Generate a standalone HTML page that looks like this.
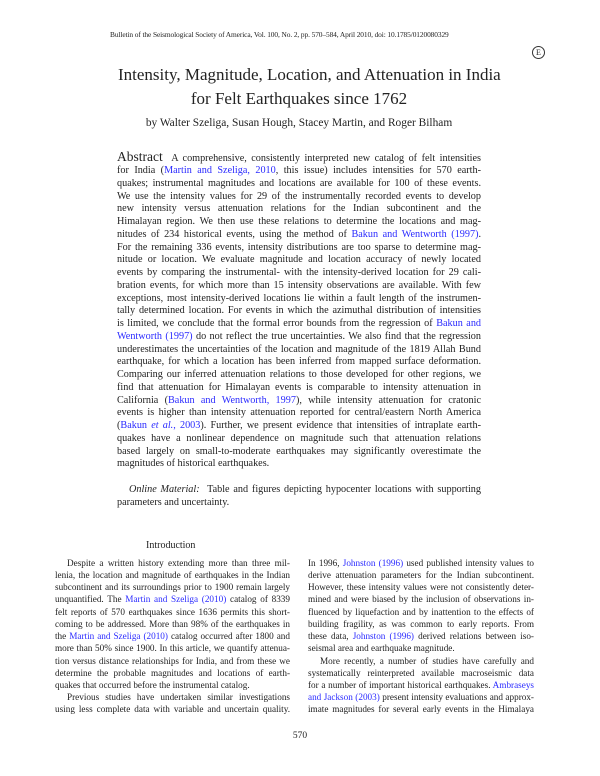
<!DOCTYPE html>
<html><head><meta charset="utf-8"><style>
body{margin:0;background:#fff;}
#p{position:relative;width:600px;height:776px;overflow:hidden;font-family:"Liberation Serif",serif;color:#222;}
.a{position:absolute;white-space:nowrap;line-height:1;}
.l{position:absolute;text-align:justify;text-align-last:justify;height:13px;line-height:13px;overflow:hidden;}
.e{text-align-last:left;}
.ab{left:117px;width:364px;font-size:10.2px;}
.lc{left:55px;width:235px;font-size:9.2px;}
.rc{left:308px;width:226px;font-size:9.2px;}
b{font-weight:normal;color:#2b2bff;}
</style></head><body><div id="p">
<div class="a" style="left:110px;top:31px;font-size:7.4px;width:380px;letter-spacing:-0.1px">Bulletin of the Seismological Society of America, Vol. 100, No. 2, pp. 570–584, April 2010, doi: 10.1785/0120080329</div>
<div class="a" style="left:532px;top:46px;width:11px;height:11px;border:1px solid #333;border-radius:50%;font-size:8px;text-align:center;line-height:11px">E</div>
<div class="a" style="left:118px;top:66px;font-size:17px;width:362px;text-align:center">Intensity, Magnitude, Location, and Attenuation in India</div>
<div class="a" style="left:118px;top:90px;font-size:17px;width:362px;text-align:center">for Felt Earthquakes since 1762</div>
<div class="a" style="left:118px;top:118px;font-size:11.4px;width:362px;text-align:center">by Walter Szeliga, Susan Hough, Stacey Martin, and Roger Bilham</div>

<div class="l ab" style="top:149px;height:16px;line-height:16px"><span style="font-size:13.5px">Abstract</span>&nbsp; A comprehensive, consistently interpreted new catalog of felt intensities</div>
<div class="l ab" style="top:164px">for India (<b>Martin and Szeliga, 2010</b>, this issue) includes intensities for 570 earth-</div>
<div class="l ab" style="top:177px">quakes; instrumental magnitudes and locations are available for 100 of these events.</div>
<div class="l ab" style="top:190px">We use the intensity values for 29 of the instrumentally recorded events to develop</div>
<div class="l ab" style="top:202px">new intensity versus attenuation relations for the Indian subcontinent and the</div>
<div class="l ab" style="top:215px">Himalayan region. We then use these relations to determine the locations and mag-</div>
<div class="l ab" style="top:228px">nitudes of 234 historical events, using the method of <b>Bakun and Wentworth (1997)</b>.</div>
<div class="l ab" style="top:241px">For the remaining 336 events, intensity distributions are too sparse to determine mag-</div>
<div class="l ab" style="top:253px">nitude or location. We evaluate magnitude and location accuracy of newly located</div>
<div class="l ab" style="top:266px">events by comparing the instrumental- with the intensity-derived location for 29 cali-</div>
<div class="l ab" style="top:279px">bration events, for which more than 15 intensity observations are available. With few</div>
<div class="l ab" style="top:292px">exceptions, most intensity-derived locations lie within a fault length of the instrumen-</div>
<div class="l ab" style="top:304px">tally determined location. For events in which the azimuthal distribution of intensities</div>
<div class="l ab" style="top:317px">is limited, we conclude that the formal error bounds from the regression of <b>Bakun and</b></div>
<div class="l ab" style="top:330px"><b>Wentworth (1997)</b> do not reflect the true uncertainties. We also find that the regression</div>
<div class="l ab" style="top:343px">underestimates the uncertainties of the location and magnitude of the 1819 Allah Bund</div>
<div class="l ab" style="top:355px">earthquake, for which a location has been inferred from mapped surface deformation.</div>
<div class="l ab" style="top:368px">Comparing our inferred attenuation relations to those developed for other regions, we</div>
<div class="l ab" style="top:381px">find that attenuation for Himalayan events is comparable to intensity attenuation in</div>
<div class="l ab" style="top:394px">California (<b>Bakun and Wentworth, 1997</b>), while intensity attenuation for cratonic</div>
<div class="l ab" style="top:406px">events is higher than intensity attenuation reported for central/eastern North America</div>
<div class="l ab" style="top:419px">(<b>Bakun <i>et al.</i>, 2003</b>). Further, we present evidence that intensities of intraplate earth-</div>
<div class="l ab" style="top:432px">quakes have a nonlinear dependence on magnitude such that attenuation relations</div>
<div class="l ab" style="top:445px">based largely on small-to-moderate earthquakes may significantly overestimate the</div>
<div class="l ab e" style="top:457px">magnitudes of historical earthquakes.</div>

<div class="l ab" style="top:483px;left:129px;width:352px"><i>Online Material:</i>&nbsp; Table and figures depicting hypocenter locations with supporting</div>
<div class="l ab e" style="top:496px">parameters and uncertainty.</div>

<div class="a" style="left:146px;top:541px;font-size:10px">Introduction</div>

<div class="l lc" style="top:557px;left:67px;width:223px">Despite a written history extending more than three mil-</div>
<div class="l lc" style="top:569px">lenia, the location and magnitude of earthquakes in the Indian</div>
<div class="l lc" style="top:581px">subcontinent and its surroundings prior to 1900 remain largely</div>
<div class="l lc" style="top:593px">unquantified. The <b>Martin and Szeliga (2010)</b> catalog of 8339</div>
<div class="l lc" style="top:606px">felt reports of 570 earthquakes since 1636 permits this short-</div>
<div class="l lc" style="top:618px">coming to be addressed. More than 98% of the earthquakes in</div>
<div class="l lc" style="top:630px">the <b>Martin and Szeliga (2010)</b> catalog occurred after 1800 and</div>
<div class="l lc" style="top:642px">more than 50% since 1900. In this article, we quantify attenua-</div>
<div class="l lc" style="top:655px">tion versus distance relationships for India, and from these we</div>
<div class="l lc" style="top:667px">determine the probable magnitudes and locations of earth-</div>
<div class="l lc e" style="top:679px">quakes that occurred before the instrumental catalog.</div>
<div class="l lc" style="top:691px;left:67px;width:223px">Previous studies have undertaken similar investigations</div>
<div class="l lc" style="top:703px">using less complete data with variable and uncertain quality.</div>

<div class="l rc" style="top:557px">In 1996, <b>Johnston (1996)</b> used published intensity values to</div>
<div class="l rc" style="top:569px">derive attenuation parameters for the Indian subcontinent.</div>
<div class="l rc" style="top:581px">However, these intensity values were not consistently deter-</div>
<div class="l rc" style="top:593px">mined and were biased by the inclusion of observations in-</div>
<div class="l rc" style="top:606px">fluenced by liquefaction and by inattention to the effects of</div>
<div class="l rc" style="top:618px">building fragility, as was common to early reports. From</div>
<div class="l rc" style="top:630px">these data, <b>Johnston (1996)</b> derived relations between iso-</div>
<div class="l rc e" style="top:642px">seismal area and earthquake magnitude.</div>
<div class="l rc" style="top:655px;left:320px;width:214px">More recently, a number of studies have carefully and</div>
<div class="l rc" style="top:667px">systematically reinterpreted available macroseismic data</div>
<div class="l rc" style="top:679px">for a number of important historical earthquakes. <b>Ambraseys</b></div>
<div class="l rc" style="top:691px"><b>and Jackson (2003)</b> present intensity evaluations and approx-</div>
<div class="l rc" style="top:703px">imate magnitudes for several early events in the Himalaya</div>

<div class="a" style="left:290px;top:732px;font-size:9.5px;width:20px;text-align:center">570</div>
</div></body></html>
